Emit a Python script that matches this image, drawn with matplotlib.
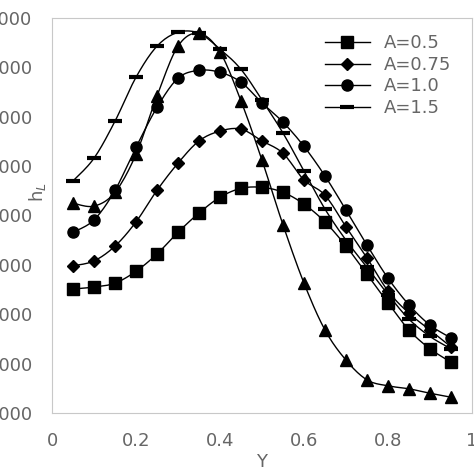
import matplotlib
matplotlib.use("Agg")
import matplotlib.pyplot as plt
from matplotlib.lines import Line2D
import numpy as np

x = [0.05,0.1,0.15,0.2,0.25,0.3,0.35,0.4,0.45,0.5,0.55,0.6,0.65,0.7,0.75,0.8,0.85,0.9,0.95]
a05 = [2.51,2.55,2.63,2.87,3.22,3.66,4.05,4.37,4.55,4.57,4.47,4.23,3.87,3.38,2.81,2.23,1.68,1.30,1.03]
a075 = [2.98,3.08,3.38,3.87,4.51,5.06,5.51,5.71,5.75,5.51,5.26,4.72,4.41,3.77,3.14,2.47,2.02,1.68,1.34]
a10 = [3.66,3.91,4.51,5.38,6.19,6.78,6.94,6.90,6.70,6.28,5.89,5.40,4.80,4.11,3.40,2.73,2.19,1.78,1.52]
a15 = [4.70,5.16,5.91,6.80,7.43,7.71,7.69,7.37,6.96,6.34,5.67,4.90,4.13,3.50,2.95,2.40,1.90,1.55,1.30]
tri = [4.25,4.19,4.47,5.24,6.42,7.43,7.69,7.31,6.32,5.12,3.81,2.63,1.68,1.07,0.67,0.55,0.49,0.40,0.32]
yticks = list(range(0, 9))
ylabels = [f"{v+1}000" for v in yticks]

def smooth(xs, ys, n=12):
    p = np.column_stack([xs, ys])
    p = np.vstack([p[0], p, p[-1]])
    out = []
    for i in range(1, len(p) - 2):
        p0, p1, p2, p3 = p[i-1], p[i], p[i+1], p[i+2]
        t = np.linspace(0, 1, n)[:, None]
        seg = 0.5 * ((2*p1) + (-p0 + p2)*t + (2*p0 - 5*p1 + 4*p2 - p3)*t**2 + (-p0 + 3*p1 - 3*p2 + p3)*t**3)
        out.append(seg)
    out = np.vstack(out)
    return out[:, 0], out[:, 1]

fig = plt.figure(figsize=(4.74, 4.74), dpi=100)
ax = fig.add_axes([52/474, 61/474, 420/474, 395/474])
series = [(a05, 's', 8, 1, 'A=0.5'), (a075, 'D', 6, 1, 'A=0.75'),
          (a10, 'o', 8, 1, 'A=1.0'), (a15, '_', 10, 3, 'A=1.5'), (tri, '^', 8, 1, None)]
handles = []
for ys, m, ms, mew, lab in series:
    sx, sy = smooth(x, ys)
    ax.plot(sx, sy, color='black', lw=1)
    ax.plot(x, ys, ls='none', marker=m, ms=ms, mew=mew, color='black')
    if lab:
        handles.append(Line2D([], [], color='black', lw=1, marker=m, ms=ms, mew=mew, label=lab))
ax.set_xlim(0, 1.0)
ax.set_ylim(0, 8)
ax.set_xticks([0, 0.2, 0.4, 0.6, 0.8, 1.0])
ax.set_xticklabels(['0', '0.2', '0.4', '0.6', '0.8', '1'])
ax.set_yticks(yticks)
ax.set_yticklabels(ylabels)
ax.tick_params(length=0, labelsize=13, colors='#666666', pad=14)
for s in ax.spines.values():
    s.set_color('#c8c8c8')
ax.set_xlabel('Y', fontsize=13, color='#666666', labelpad=2)
ax.text(-0.035, 0.56, r'h$_L$', transform=ax.transAxes, rotation=90, fontsize=13,
        color='#666666', ha='center', va='center')
ax.legend(handles=handles, loc='upper right', bbox_to_anchor=(0.99, 1.0), frameon=False, fontsize=13,
          handlelength=2.5, labelspacing=0.2, labelcolor='#666666')
fig.savefig('out.png', dpi=100)
